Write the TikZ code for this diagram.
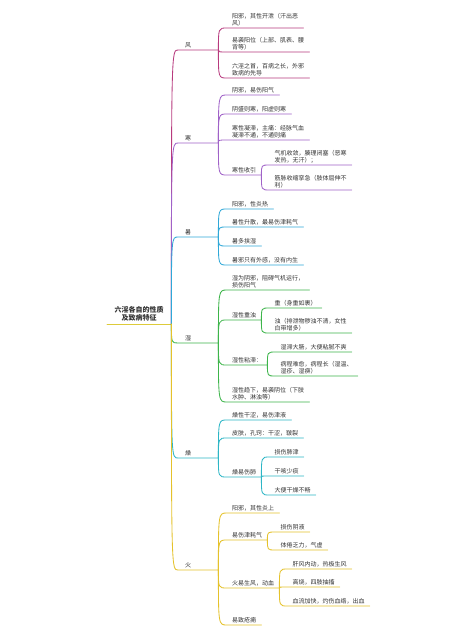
\documentclass[tikz,border=0pt]{standalone}
\usepackage{fontspec}
\setmainfont{Noto Sans CJK SC}
\definecolor{txt}{HTML}{333333}
\definecolor{cf}{HTML}{B83A7E}
\definecolor{ch}{HTML}{A062C8}
\definecolor{cs}{HTML}{2FA8D8}
\definecolor{cw}{HTML}{3DB54A}
\definecolor{cz}{HTML}{2DB6C6}
\definecolor{cy}{HTML}{E5C22B}
\definecolor{croot}{HTML}{DDCB3A}
\newcommand\lnk[3]{\draw[w,#3] (#1.south east) .. controls (#1.south east |- #2.south west) .. (#2.south west) -- (#2.south east);}
\newcommand\trk[3]{\draw[w,#3] (#1.south east) .. controls (#1.south east |- #2.south west) and (#1.south east |- #2.south west) .. (#2.south west) -- (#2.south east);}
\newcommand\gx[1]{\path (#1.south east) ++(8,0) coordinate (#1x);}
\begin{document}
\begin{tikzpicture}[x=1pt,y=-1pt,
  t/.style={anchor=south west, inner xsep=5pt, inner ysep=1.8pt, align=left, font=\fontsize{6}{7}\selectfont, text=txt},
  k/.style={t, text width=26pt, inner xsep=7pt},
  w/.style={line width=0.85pt, line cap=round},
]
\useasboundingbox[fill=white] (0,0) rectangle (474,632);

% root
\node[t, align=center, font=\fontsize{7}{8}\selectfont\bfseries, inner xsep=7.5pt, inner ysep=2.5pt] (root) at (107,324) {六淫各自的性质\\及致病特征};
\draw[w,croot] (root.south west) -- (root.south east);

% first level
\node[k] (f) at (178,50) {风};
\node[k] (h) at (178,143) {寒};
\node[k] (s) at (178,237) {暑};
\node[k] (m) at (178,343) {湿};
\node[k] (z) at (178,458) {燥};
\node[k] (y) at (178,570) {火};
\trk{root}{f}{cf}
\trk{root}{h}{ch}
\trk{root}{s}{cs}
\trk{root}{m}{cw}
\trk{root}{z}{cz}
\trk{root}{y}{cy}

% 风
\node[t] (f1) at (227,28) {阳邪，其性开泄（汗出恶\\风）};
\node[t] (f2) at (227,52) {易袭阳位（上部、肌表、腰\\背等）};
\node[t] (f3) at (227,78) {六淫之首，百病之长，外邪\\致病的先导};
\lnk{f}{f1}{cf}
\lnk{f}{f2}{cf}
\lnk{f}{f3}{cf}

% 寒
\node[t] (h1) at (227,95) {阴邪，易伤阳气};
\node[t] (h2) at (227,114) {阴盛则寒，阳虚则寒};
\node[t] (h3) at (227,140) {寒性凝滞，主痛：经脉气血\\凝滞不通，不通则痛};
\node[t] (h4) at (227,175) {寒性收引};
\lnk{h}{h1}{ch}
\lnk{h}{h2}{ch}
\lnk{h}{h3}{ch}
\lnk{h}{h4}{ch}
\gx{h4}
\node[t] (h4a) at (h4x |- 0,165) {气机收敛，腠理闭塞（恶寒\\发热，无汗）；};
\node[t] (h4b) at (h4x |- 0,190) {筋脉收缩挛急（肢体屈伸不\\利）};
\lnk{h4}{h4a}{ch}
\lnk{h4}{h4b}{ch}

% 暑
\node[t] (s1) at (227,209) {阳邪，性炎热};
\node[t] (s2) at (227,227) {暑性升散，最易伤津耗气};
\node[t] (s3) at (227,246) {暑多挟湿};
\node[t] (s4) at (227,265) {暑邪只有外感，没有内生};
\lnk{s}{s1}{cs}
\lnk{s}{s2}{cs}
\lnk{s}{s3}{cs}
\lnk{s}{s4}{cs}

% 湿
\node[t] (m1) at (227,290) {湿为阴邪，阻碍气机运行，\\损伤阳气};
\node[t] (m2) at (227,320) {湿性重浊};
\node[t] (m3) at (227,365) {湿性粘滞：};
\node[t] (m4) at (227,402) {湿性趋下，易袭阴位（下肢\\水肿、淋浊等）};
\lnk{m}{m1}{cw}
\lnk{m}{m2}{cw}
\lnk{m}{m3}{cw}
\lnk{m}{m4}{cw}
\gx{m2}
\node[t] (m2a) at (m2x |- 0,308) {重（身重如裹）};
\node[t] (m2b) at (m2x |- 0,333) {浊（排泄物秽浊不清，女性\\白带增多）};
\lnk{m2}{m2a}{cw}
\lnk{m2}{m2b}{cw}
\gx{m3}
\node[t] (m3a) at (m3x |- 0,352) {湿滞大肠，大便粘腻不爽};
\node[t] (m3b) at (m3x |- 0,376) {病程难愈，病程长（湿温、\\湿疹、湿痹）};
\lnk{m3}{m3a}{cw}
\lnk{m3}{m3b}{cw}

% 燥
\node[t] (z1) at (227,420) {燥性干涩，易伤津液};
\node[t] (z2) at (227,438) {皮肤，孔窍：干涩，皲裂};
\node[t] (z3) at (227,477) {燥易伤肺};
\lnk{z}{z1}{cz}
\lnk{z}{z2}{cz}
\lnk{z}{z3}{cz}
\gx{z3}
\node[t] (z3a) at (z3x |- 0,457) {损伤肺津};
\node[t] (z3b) at (z3x |- 0,476) {干咳少痰};
\node[t] (z3c) at (z3x |- 0,495) {大便干燥不畅};
\lnk{z3}{z3a}{cz}
\lnk{z3}{z3b}{cz}
\lnk{z3}{z3c}{cz}

% 火
\node[t] (y1) at (227,513) {阳邪，其性炎上};
\node[t] (y2) at (227,540) {易伤津耗气};
\node[t] (y3) at (227,588) {火易生风，动血};
\node[t] (y4) at (227,625) {易致疮痈};
\lnk{y}{y1}{cy}
\lnk{y}{y2}{cy}
\lnk{y}{y3}{cy}
\lnk{y}{y4}{cy}
\gx{y2}
\node[t] (y2a) at (y2x |- 0,532) {损伤阴液};
\node[t] (y2b) at (y2x |- 0,550) {体倦乏力，气虚};
\lnk{y2}{y2a}{cy}
\lnk{y2}{y2b}{cy}
\gx{y3}
\node[t] (y3a) at (y3x |- 0,569) {肝风内动，热极生风};
\node[t] (y3b) at (y3x |- 0,587) {高烧，四肢抽搐};
\node[t] (y3c) at (y3x |- 0,606) {血流加快，灼伤血络，出血};
\lnk{y3}{y3a}{cy}
\lnk{y3}{y3b}{cy}
\lnk{y3}{y3c}{cy}
\end{tikzpicture}
\end{document}
